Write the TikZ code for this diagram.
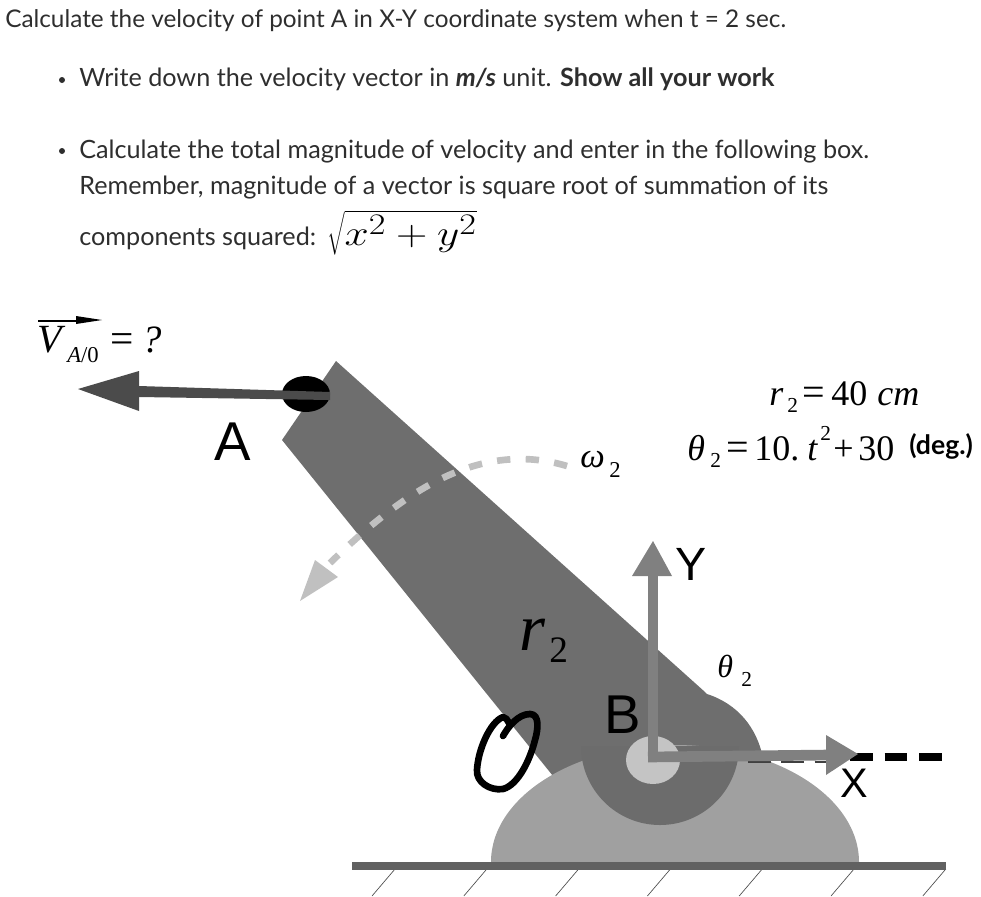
\documentclass[tikz,border=0pt]{standalone}
\usepackage{graphicx}
\usepackage{fontspec}
\setmainfont{Lato}
\newfontfamily\serifeq{Liberation Serif}
\newfontfamily\sanslbl{Liberation Sans}
\definecolor{txt}{HTML}{2E2E2E}
\definecolor{armc}{HTML}{6E6E6E}
\definecolor{domec}{HTML}{A0A0A0}
\definecolor{hubc}{HTML}{6C6C6C}
\definecolor{pinc}{HTML}{C4C4C4}
\definecolor{axc}{HTML}{808080}
\definecolor{velc}{HTML}{4B4B4B}
\definecolor{dashc}{HTML}{C0C0C0}
\newcommand{\fs}[1]{\fontsize{#1}{#1}\selectfont}
\tikzset{
  bodytext/.style={anchor=base west,inner sep=0,text=txt,font=\fs{18.9}},
  bulletdot/.style={circle,fill=txt,inner sep=0,minimum size=4.5pt},
  biglbl/.style={anchor=base,inner sep=0,text=black,font=\sanslbl\fs{41}},
  axlbl/.style={anchor=base,inner sep=0,text=black,font=\sanslbl\fs{35}},
  eqn/.style={anchor=base west,inner sep=0,text=black,font=\serifeq\fs{27}},
  eqi/.style={anchor=base west,inner sep=0,text=black,font=\serifeq\itshape\fs{27}},
  eqs/.style={anchor=base west,inner sep=0,text=black,font=\serifeq\fs{16}},
  hatchline/.style={draw=black!70,line width=0.5pt},
}
\begin{document}
\begin{tikzpicture}[x=0.75pt,y=-0.75pt]
\useasboundingbox (0,0) rectangle (981,896);
% texts
\node[bodytext,font=\fs{18.25}] (t1) at (5,27) {Calculate the velocity of point A in X-Y coordinate system when t = 2 sec.};
\node[bulletdot] (b1) at (62,80) {};
\node[bodytext] (t2) at (79,86) {Write down the velocity vector in \textbf{\textit{m/s}} unit. \textbf{Show all your work}};
\node[bulletdot] (b2) at (62,151) {};
\node[bodytext] (t3) at (79,158) {Calculate the total magnitude of velocity and enter in the following box.};
\node[bodytext] (t4) at (79,194) {Remember, magnitude of a vector is square root of summation of its};
\node[bodytext] (t5) at (79,245) {components squared:};
\node[anchor=base west,inner sep=0,text=black,font=\fs{24.88}] (t6) at (327,245) {\scalebox{1.31}[1.08]{$\sqrt{x^2+y^2}$}};
% ground
\foreach \i in {0,...,6}
  \draw[hatchline] ({395+91.8*\i},869) -- ({372+91.8*\i},896);
% arm
\fill[armc] (336,361) -- (705,692) -- (707,694)
  .. controls (738,704) and (757,728) .. (763,758)
  -- (600,790) -- (553,776) -- (282,440) -- cycle;
% dome and hub
\fill[domec] (491,862) arc[start angle=180,end angle=360,x radius=184,y radius=117] -- cycle;
\fill[armc!88!black] (352,862) rectangle (946,870);
\fill[hubc] (581,746) arc[start angle=180,end angle=0,radius=79] -- cycle;
\fill[pinc] (653,760) ellipse[x radius=27,y radius=24];
% dashed omega arc
\draw[dashc,line width=5pt,dash pattern=on 10pt off 11.5pt] (567,466) .. controls (480,440) and (405,490) .. (330,563);
\coordinate (wTip) at (300,601);
\fill[dashc] (wTip) -- (315,560) -- (338,577) -- cycle;
% point A & velocity
\fill[black] (306,394) ellipse[x radius=24,y radius=18];
\fill[velc] (139,386) -- (330,392) -- (330,400) -- (139,397) -- cycle;
\fill[velc] (78,389) -- (139,371) -- (139,411) -- cycle;
% dashed x-axis
\draw[black!75,line width=1.5pt,dash pattern=on 17pt off 8pt] (748,762) -- (826,762);
\draw[black,line width=6pt,dash pattern=on 17pt off 9pt] (850,757) -- (946,757);
% axes
\draw[axc,line width=8pt] (653,762) -- (653,575);
\fill[axc] (653,541) -- (672,576) -- (632,576) -- cycle;
\draw[axc,line width=8pt] (648,757) -- (830,755);
\fill[axc] (858,754) -- (826,735) -- (826,775) -- cycle;
% labels
\node[biglbl] (A) at (233,460) {A};
\node[biglbl] (B) at (623,733) {B};
\node[axlbl] (Y) at (691,580) {Y};
\node[axlbl,font=\sanslbl\fs{31}] (X) at (854,797) {X};
\node[eqi,font=\serifeq\itshape\fs{50}] (r) at (519,650) {r};
\node[eqn,font=\serifeq\fs{28}] (r2) at (549,662) {2};
\node[eqi,font=\serifeq\itshape\fs{24}] (th) at (717,677) {θ};
\node[eqs] (th2) at (741,686) {2};
\node[eqi,font=\serifeq\itshape\fs{26}] (om) at (580,467) {ω};
\node[eqs,font=\serifeq\fs{17}] (om2) at (609,477) {2};
% equations
\node[eqi] (e1a) at (769,405) {r};
\node[eqs] (e1b) at (787,412) {2};
\node[eqn,font=\serifeq\fs{30}] (e1c) at (802,405) {=};
\node[eqn] (e1d) at (831,405) {40};
\node[eqi] (e1e) at (877,405) {cm};
\node[eqi] (e2a) at (687,460) {θ};
\node[eqs] (e2b) at (710,467) {2};
\node[eqn,font=\serifeq\fs{30}] (e2c) at (726,460) {=};
\node[eqn] (e2d) at (754,460) {10.};
\node[eqi] (e2e) at (807,460) {t};
\node[eqs] (e2f) at (820,440) {2};
\node[eqn] (e2g) at (833,460) {+};
\node[eqn] (e2h) at (858,460) {30};
\node[anchor=base west,inner sep=0,text=black,font=\fs{20}\bfseries] (e3) at (909,454) {(deg.)};
% V_A/0
\node[eqi,font=\serifeq\itshape\fs{30}] (v) at (37,352) {V};
\node[eqs,font=\serifeq\fs{17}] (vs) at (67,362) {\itshape A\upshape/0};
\node[eqn,font=\serifeq\fs{31}] (veq) at (110,352) {=};
\node[eqn,font=\serifeq\itshape\fs{29}] (vq) at (142,352) {?};
\draw[black,line width=0.8pt] (38,321) -- (78,321);
\fill[black] (102,320) -- (76,316) -- (76,324) -- cycle;
% handwritten O
\draw[black,line width=5pt,line cap=round,line join=round] (503,736)
  .. controls (508,727) and (518,714) .. (530,714)
  .. controls (540,714) and (538,730) .. (535,740)
  .. controls (530,760) and (518,785) .. (503,789)
  .. controls (490,791) and (476,782) .. (477,770)
  .. controls (478,750) and (490,722) .. (503,717)
  .. controls (506,717) and (507,720) .. (509,723);
\end{tikzpicture}
\end{document}
